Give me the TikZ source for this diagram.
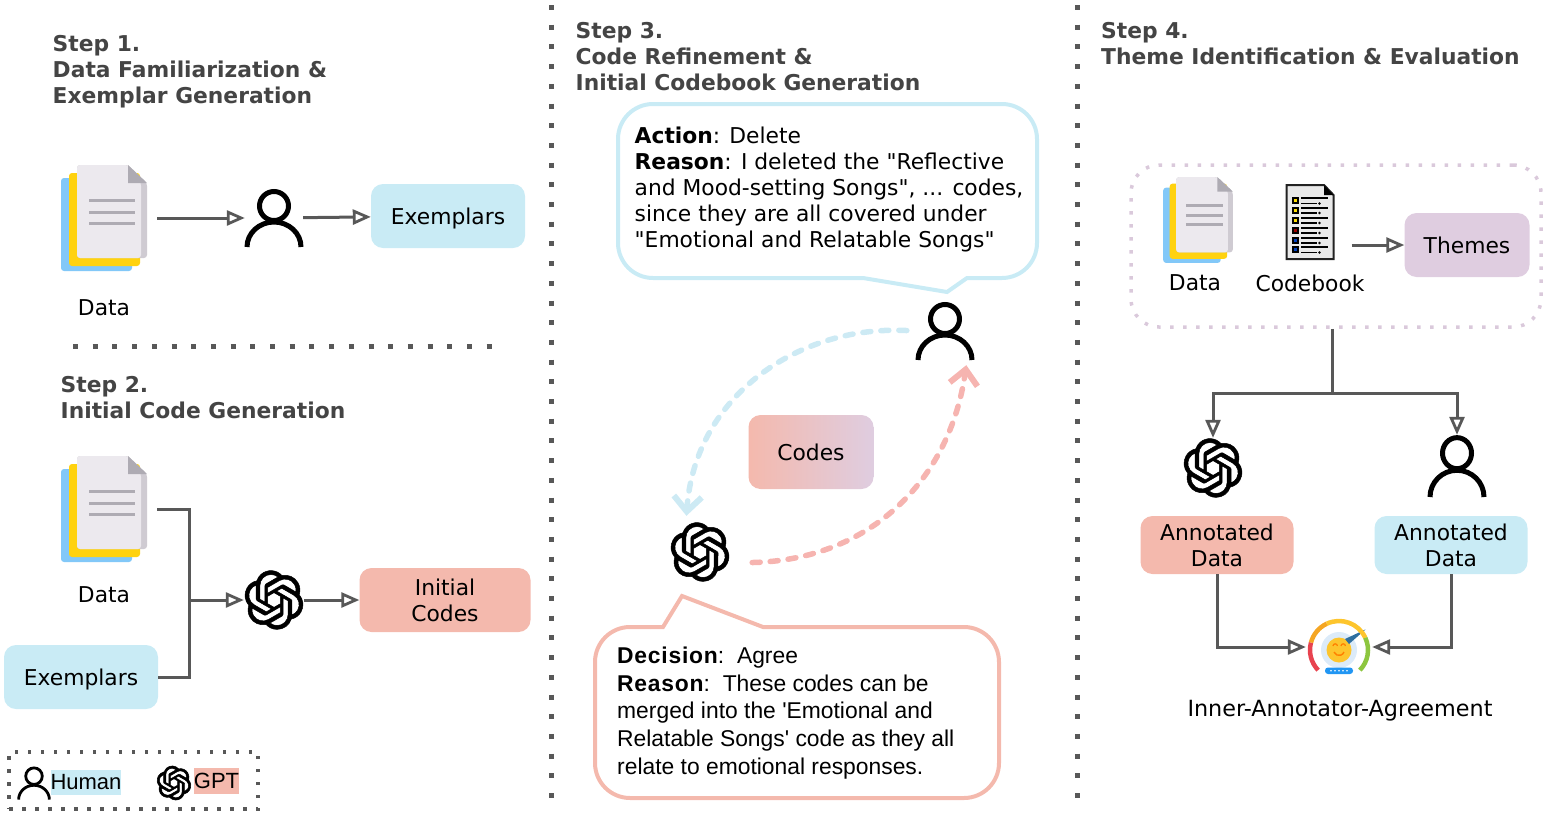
\documentclass[tikz,border=0pt]{standalone}
\usepackage{fontspec}
\setmainfont{DejaVu Sans}
\newfontfamily\arialfont{Liberation Sans}
\newfontfamily\plainfont{DejaVu Sans}
\usetikzlibrary{arrows.meta,svg.path}
\definecolor{tagblue}{HTML}{C9EBF5}
\definecolor{tagred}{HTML}{F4B9AD}
\definecolor{tagpurple}{HTML}{DFCDE0}
\definecolor{flowgrey}{HTML}{585858}
\definecolor{titlegrey}{HTML}{444444}
\definecolor{dashblue}{HTML}{CDEAF4}
\definecolor{dashred}{HTML}{F6B4B0}
\newcommand{\boldlabel}[1]{{\bfseries\addfontfeature{LetterSpace=3.4}#1}}
\tikzset{
  bodytext/.style={font=\fontsize{21.8}{26}\selectfont,align=center,inner sep=0pt},
  steptitle/.style={font=\fontsize{21.8}{26}\selectfont\bfseries,text=titlegrey,align=left,anchor=north west,inner sep=0pt},
  tagbox/.style={bodytext,rounded corners=12pt},
  iconbox/.style={inner sep=0pt},
  bigicon/.style={line width=5pt},
  smallicon/.style={scale=.57,line width=2.8pt},
  flow/.style={draw=flowgrey,line width=3pt},
  flowarrow/.style={flow,-{Triangle[open,length=18pt,width=15pt,line width=2.8pt]}},
  divider/.style={draw=flowgrey,line width=5pt,dash pattern=on 5pt off 14.7pt},
  dotbox/.style={line width=3.5pt,dash pattern=on 3.5pt off 9.5pt},
  dashcurve/.style={line width=5.5pt,line cap=round,dash pattern=on 8pt off 10pt},
  dashtip/.style={-{Straight Barb[length=15pt,width=28pt,line width=6pt]}},
  calloutline/.style={line width=4pt},
  pics/docstack/.style={code={
    \fill[rounded corners=3pt,fill={rgb,255:red,130;green,200;blue,248}] (-43,-40) rectangle (28,53);
    \fill[rounded corners=3pt,fill={rgb,255:red,255;green,210;blue,15}] (-35,-45) rectangle (36,48);
    \fill[rounded corners=3pt,fill={rgb,255:red,207;green,203;blue,210}] (-27,-53) -- (24,-53) -- (43,-35) -- (43,40) -- (-27,40) -- cycle;
    \fill[rounded corners=3pt,fill={rgb,255:red,236;green,233;blue,238}] (-27,-53) -- (24,-53) -- (37,-35) -- (37,40) -- (-27,40) -- cycle;
    \fill[fill={rgb,255:red,174;green,171;blue,179}] (24,-53) -- (43,-35) -- (24,-35) -- cycle;
    \foreach \y in {-18,-6,5}
      \draw[line width=3pt,draw={rgb,255:red,174;green,171;blue,179}] (-15,\y) -- (31,\y);
  }},
  pics/human/.style={code={
    \draw[y=1pt] (0,12) circle[radius=14.5];
    \draw[y=1pt] (-27,-29) arc[start angle=180,end angle=0,x radius=27,y radius=25];
  }},
  pics/gptknot/.style={code={
    \begin{scope}[y=1pt,scale=2.45,yscale=-1,shift={(-12,-12)}]
    \filldraw[even odd rule,line width=.5pt] (0,0) svg {M 22.2819 9.8211 a 5.9847 5.9847 0 0 0 -0.5157 -4.9108 a 6.0462 6.0462 0 0 0 -6.5098 -2.9 A 6.0651 6.0651 0 0 0 4.9807 4.1818 a 5.9847 5.9847 0 0 0 -3.9977 2.9 a 6.0462 6.0462 0 0 0 0.7427 7.0966 a 5.98 5.98 0 0 0 0.511 4.9107 a 6.051 6.051 0 0 0 6.5146 2.9001 A 5.9847 5.9847 0 0 0 13.2599 24 a 6.0557 6.0557 0 0 0 5.7718 -4.2058 a 5.9894 5.9894 0 0 0 3.9977 -2.9001 a 6.0557 6.0557 0 0 0 -0.7475 -7.0729 z
      M 13.2599 22.4292 a 4.4755 4.4755 0 0 1 -2.8764 -1.0408 l 0.1419 -0.0804 l 4.7783 -2.7582 l 0.3927 -0.6813 v -6.7369 l 2.02 1.1686 l 0.038 0.052 v 5.5826 a 4.504 4.504 0 0 1 -4.4945 4.4944 z
      M 3.5992 18.3038 a 4.4708 4.4708 0 0 1 -0.5346 -3.0137 l 0.142 0.0852 l 4.783 2.7582 l 0.7806 0 l 5.8428 -3.3685 v 2.3324 l -0.0332 0.0615 L 9.74 19.9502 a 4.4992 4.4992 0 0 1 -6.1408 -1.6464 z
      M 2.3408 7.8956 a 4.485 4.485 0 0 1 2.3655 -1.9728 V 11.6 l 0.3879 0.6765 l 5.8144 3.3543 l -2.0201 1.1685 l -0.071 0 l -4.8303 -2.7865 A 4.504 4.504 0 0 1 2.3408 7.872 z
      M 18.9371 11.7514 L 13.1038 8.364 L 15.1192 7.2 l 0.071 0 l 4.8303 2.7913 a 4.4944 4.4944 0 0 1 -0.6765 8.1042 v -5.6772 l -0.407 -0.667 z
      M 20.9478 8.7283 l -0.142 -0.0852 l -4.7735 -2.7818 l -0.7854 0 L 9.409 9.2297 V 6.8974 l 0.0284 -0.0615 l 4.8303 -2.7866 a 4.4992 4.4992 0 0 1 6.6802 4.66 z
      M 8.3065 12.863 l -2.02 -1.1638 l -0.038 -0.0567 V 6.0742 a 4.4992 4.4992 0 0 1 7.3757 -3.4537 l -0.142 0.0805 L 8.704 5.459 l -0.3927 0.6813 z
      M 9.4041 10.4976 l 2.602 -1.4998 l 2.6069 1.4998 v 2.9994 l -2.5974 1.4997 l -2.6067 -1.4997 z};
    \end{scope}
  }},
  pics/codebook/.style={code={
    \draw[line width=2pt,fill={rgb,255:red,233;green,233;blue,233},draw={rgb,255:red,34;green,34;blue,34}] (-23.5,-37) -- (14,-37) -- (23.5,-27) -- (23.5,37) -- (-23.5,37) -- cycle;
    \fill[black] (14,-37) -- (23.5,-27) -- (14,-27) -- cycle;
    \foreach \y/\c in {-21.5/yellow!80!orange,-12/yellow!80!orange,-2/yellow!80!orange,8/red!60!black,18/blue!50!teal,27.5/blue!50!teal} {
      \fill[black] (-18.5,\y-3.5) rectangle (-11.5,\y+3.5);
      \fill[\c] (-16.5,\y-1.5) rectangle (-13.5,\y+1.5);
      \draw[line width=1.6pt] (-9,\y-2.3) -- (18,\y-2.3);
      \draw[line width=1.6pt] (-9,\y+3) -- (7,\y+3);
      \fill[black] (9.5,\y+3) circle[radius=1.4];
    }
  }},
  pics/gauge/.style={code={
    \begin{scope}[y=1pt]
    \fill[fill={rgb,255:red,220;green,235;blue,249}] (0,0) circle[radius=18];
    \fill[fill={rgb,255:red,253;green,197;blue,45}] (0,0) circle[radius=12.5];
    \draw[line width=1.2pt,draw=orange] (-6,4) arc[start angle=180,end angle=0,radius=2.2];
    \draw[line width=1.2pt,draw=orange] (2,4) arc[start angle=180,end angle=0,radius=2.2];
    \draw[line width=1.4pt,draw=orange] (-5,-2) arc[start angle=200,end angle=340,radius=5.3];
    \fill[fill={rgb,255:red,47;green,111;blue,159}] (26.7,20.7) -- (6,11) -- (10,6) -- cycle;
    \draw[line width=4.5pt,draw={rgb,255:red,232;green,67;blue,79}] (224:29) arc[start angle=224,end angle=165,radius=29];
    \draw[line width=4.5pt,draw={rgb,255:red,245;green,166;blue,35}] (165:29) arc[start angle=165,end angle=115,radius=29];
    \draw[line width=4.5pt,draw={rgb,255:red,253;green,197;blue,45}] (115:29) arc[start angle=115,end angle=25,radius=29];
    \draw[line width=4.5pt,draw={rgb,255:red,141;green,198;blue,63}] (25:29) arc[start angle=25,end angle=-44,radius=29];
    \fill[rounded corners=3pt,fill={rgb,255:red,33;green,150;blue,243}] (-14,-24) rectangle (14,-17.5);
    \foreach \x in {-8,-4,0,4,8}
      \fill[white] (\x,-20.7) circle[radius=.9];
    \end{scope}
  }},
}
\begin{document}
\begin{tikzpicture}[x=1pt,y=-1pt]
  \useasboundingbox (0,0) rectangle (1564,814);
  % dividers
  \draw[divider] (551,5) -- (551,798);
  \draw[divider] (1077,5) -- (1077,798);
  \draw[divider] (73,346) -- (492,346);
  % step 1
  \node[steptitle] (title1) at (52.5,35) {Step 1.\\Data Familiarization \&\\Exemplar Generation};
  \node[iconbox,minimum width=86pt,minimum height=106pt] (data1) at (104,218) {};
  \pic at (data1) {docstack};
  \node[bodytext] (datalabel1) at (104,308) {Data};
  \node[iconbox,minimum size=58pt] (human1) at (274,218) {};
  \pic[bigicon] at (human1) {human};
  \node[tagbox,fill=tagblue,minimum width=154pt,minimum height=64pt,text depth=0pt] (exemplars1) at (448,216) {Exemplars};
  \draw[flowarrow,shorten <=10pt] (data1) -- (human1);
  \draw[flowarrow] (human1) -- (exemplars1);
  % step 2
  \node[steptitle] (title2) at (60.5,376) {Step 2.\\Initial Code Generation};
  \node[iconbox,minimum width=86pt,minimum height=106pt] (data2) at (104,509) {};
  \pic at (data2) {docstack};
  \node[bodytext] (datalabel2) at (104,595) {Data};
  \node[tagbox,fill=tagblue,minimum width=154pt,minimum height=64pt,text depth=0pt] (exemplars2) at (81,677) {Exemplars};
  \node[iconbox,minimum size=60pt] (gpt2) at (274,600) {};
  \pic at (gpt2) {gptknot};
  \node[tagbox,fill=tagred,minimum width=171pt,minimum height=64pt] (codes2) at (445,600) {Initial\\Codes};
  \coordinate (join2) at (189,600);
  \draw[flow,shorten <=10pt] (data2) -| (join2);
  \draw[flow] (exemplars2) -| (join2);
  \draw[flowarrow] (join2) -- (gpt2);
  \draw[flowarrow] (gpt2) -- (codes2);
  % step 3
  \node[steptitle] (title3) at (575.5,22) {Step 3.\\Code Refinement \&\\Initial Codebook Generation};
  \draw[calloutline,draw=tagblue,rounded corners=35pt] (990,278) -- (1037,278) -- (1037,104) -- (618,104) -- (618,278) -- (830,278);
  \draw[calloutline,draw=tagblue] (830,278) -- (863,278) -- (947,292) -- (967,278) -- (990,278);
  \node[bodytext,align=left,anchor=north west,font=\fontsize{21.8}{26}\plainfont] (action3) at (634.5,127) {\textbf{Action}: Delete\\\textbf{Reason}: I deleted the "Reflective\\and Mood-setting Songs", ... codes,\\since they are all covered under\\"Emotional and Relatable Songs"};
  \node[iconbox,minimum size=58pt] (human3) at (945,331) {};
  \pic[bigicon] at (human3) {human};
  \node[tagbox,left color=tagred,right color=tagpurple,minimum width=125pt,minimum height=74pt] (codes3) at (811,452) {Codes};
  \node[iconbox,minimum size=60pt] (gpt3) at (700,552) {};
  \pic at (gpt3) {gptknot};
  \draw[dashcurve,dashtip,draw=dashblue,shorten <=9pt,shorten >=6pt] (human3.west) .. controls (800,325) and (695,395) .. ([xshift=-14pt]gpt3.north);
  \draw[dashcurve,dashtip,draw=dashred,shorten <=22pt,shorten >=5pt] ([yshift=-11pt]gpt3.east) .. controls (870,560) and (950,480) .. ([xshift=22pt]human3.south);
  \draw[calloutline,draw=tagred,rounded corners=35pt] (650,627) -- (595,627) -- (595,798) -- (999,798) -- (999,627) -- (780,627);
  \draw[calloutline,draw=tagred] (650,627) -- (663,627) -- (682,596) -- (763,627) -- (780,627);
  \node[bodytext,align=left,anchor=north west,font=\fontsize{22.85}{27.6}\arialfont] (decision3) at (617,647) {\boldlabel{Decision}:\hspace{.56em}Agree\\\boldlabel{Reason}:\hspace{.56em}These codes can be\\merged into the 'Emotional and\\Relatable Songs' code as they all\\relate to emotional responses.};
  % step 4
  \node[steptitle] (title4) at (1101,22) {Step 4.\\Theme Identification \& Evaluation};
  \node[draw=tagpurple!95!gray,dotbox,rounded corners=28pt,minimum width=410pt,minimum height=162pt] (themebox) at (1336,246) {};
  \node[iconbox,minimum width=70pt,minimum height=86pt] (data4) at (1198,220) {};
  \pic[scale=.81] at (data4) {docstack};
  \node[bodytext] (datalabel4) at (1195,283) {Data};
  \node[iconbox,minimum width=47pt,minimum height=74pt] (codebook4) at (1310,222) {};
  \pic at (codebook4) {codebook};
  \node[bodytext] (codebooklabel4) at (1310,283) {Codebook};
  \node[tagbox,fill=tagpurple,minimum width=125pt,minimum height=64pt] (themes4) at (1467,245) {Themes};
  \draw[flowarrow,shorten <=18pt] (codebook4.east |- themes4) -- (themes4);
  \coordinate (split4) at (1332,393);
  \node[iconbox,minimum size=60pt] (gpt4) at (1213,468) {};
  \pic at (gpt4) {gptknot};
  \node[iconbox,minimum width=57pt,minimum height=62pt] (human4) at (1457,466) {};
  \pic[bigicon,yscale=1.07] at (human4) {human};
  \draw[flow] (themebox.south -| split4) -- (split4);
  \draw[flowarrow] (split4) -| (gpt4.north);
  \draw[flowarrow] (split4) -| (human4.north);
  \node[tagbox,fill=tagred,minimum width=153pt,minimum height=58pt] (annotated4a) at (1217,545) {Annotated\\Data};
  \node[tagbox,fill=tagblue,minimum width=153pt,minimum height=58pt] (annotated4b) at (1451,545) {Annotated\\Data};
  \node[iconbox,minimum width=66pt,minimum height=60pt] (gauge4) at (1339,647) {};
  \pic at ([yshift=-3pt]gauge4) {gauge};
  \draw[flowarrow] (annotated4a) |- (gauge4);
  \draw[flowarrow] (annotated4b) |- (gauge4);
  \node[bodytext,font=\fontsize{22.3}{26}\selectfont] (agreement4) at (1340,711) {Inner-Annotator-Agreement};
  % legend
  \node[draw=flowgrey,dotbox,minimum width=249pt,minimum height=57pt] (legend) at (133.5,780.5) {};
  \node[iconbox,minimum size=33pt] (humanicon) at (34,783) {};
  \pic[smallicon] at (humanicon) {human};
  \node[bodytext,font=\fontsize{22}{26}\arialfont,fill=tagblue,minimum width=70pt,minimum height=25pt] (humanlabel) at (86,782.5) {Human};
  \node[iconbox,minimum size=35pt] (gpticon) at (174,783) {};
  \pic[scale=.58] at (gpticon) {gptknot};
  \node[bodytext,font=\fontsize{22}{26}\arialfont,fill=tagred,minimum width=45pt,minimum height=26pt] (gptlabel) at (216.5,781) {GPT};
\end{tikzpicture}
\end{document}
